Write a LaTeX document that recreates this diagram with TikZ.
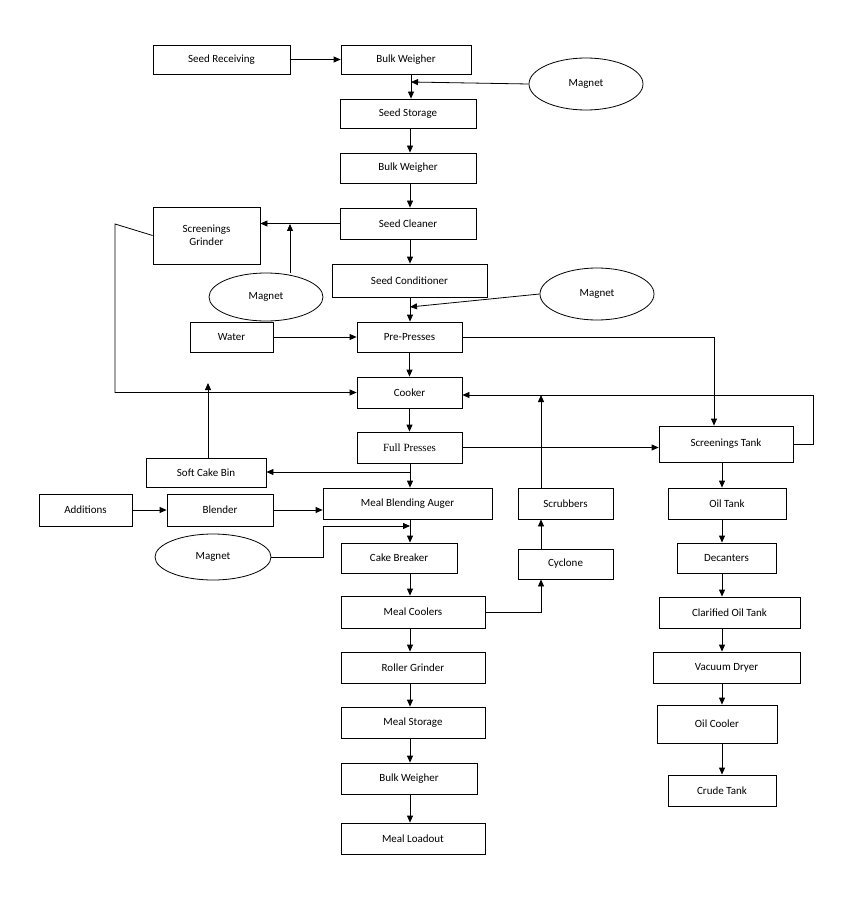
\documentclass[tikz,border=0pt]{standalone}
\usepackage{fontspec}
\setmainfont{Carlito}
\usetikzlibrary{arrows.meta,shapes.geometric}
\begin{document}
\begin{tikzpicture}[x=1pt,y=-1pt,
  box/.style={draw,thick,line width=0.8pt,inner sep=0pt,font=\fontsize{11}{13}\selectfont,align=center},
  mag/.style={draw,ellipse,line width=0.8pt,inner sep=0pt,font=\fontsize{11}{13}\selectfont},
  ar/.style={-{Triangle[length=7pt,width=6pt]},line width=0.8pt},
  ln/.style={line width=0.8pt}]
\useasboundingbox (0,0) rectangle (853,901);
\newcommand{\bx}[6]{\node[box,minimum width=#4-#2,minimum height=#5-#3] (#1) at ({(#2+#4)/2},{(#3+#5)/2}) {#6};}
\newcommand{\mg}[5]{\node[mag,minimum width=2*#4,minimum height=2*#5] (#1) at (#2,#3) {Magnet};}
\bx{sr}{153}{45}{290}{74}{Seed Receiving}
\bx{bw1}{341}{45}{471}{74}{Bulk Weigher}
\mg{m1}{586}{84}{57}{26}
\bx{ss}{340}{99}{476}{128}{Seed Storage}
\bx{bw2}{340}{153}{476}{183}{Bulk Weigher}
\bx{sc}{340}{208}{476}{239}{Seed Cleaner}
\bx{sg}{153}{207}{260}{264}{Screenings\\Grinder}
\bx{scd}{332}{264}{487}{297}{Seed Conditioner}
\mg{m2}{266}{297}{57}{24}
\mg{m3}{597}{294}{57}{26}
\bx{wa}{190}{322}{273}{352}{Water}
\bx{pp}{357}{322}{462}{352}{Pre-Presses}
\bx{co}{357}{377}{462}{408}{Cooker}
\bx{fp}{357}{432}{462}{463}{\fontspec{Liberation Serif}Full Presses}
\bx{st}{659}{426}{793}{462}{Screenings Tank}
\bx{scb}{146}{458}{266}{487}{Soft Cake Bin}
\bx{ad}{39}{494}{132}{526}{Additions}
\bx{bl}{167}{494}{273}{526}{Blender}
\bx{mba}{323}{488}{492}{519}{Meal Blending Auger}
\bx{scr}{518}{488}{613}{519}{Scrubbers}
\bx{ot}{668}{488}{786}{519}{Oil Tank}
\mg{m4}{213}{557}{58}{23}
\bx{cb}{341}{543}{457}{573}{Cake Breaker}
\bx{cy}{518}{549}{613}{579}{Cyclone}
\bx{de}{677}{543}{776}{573}{Decanters}
\bx{mc}{341}{596}{485}{628}{Meal Coolers}
\bx{cot}{659}{597}{800}{628}{Clarified Oil Tank}
\bx{rg}{341}{652}{485}{683}{Roller Grinder}
\bx{vd}{653}{652}{800}{683}{Vacuum Dryer}
\bx{ms}{341}{707}{485}{738}{Meal Storage}
\bx{oc}{657}{705}{777}{743}{Oil Cooler}
\bx{bw3}{341}{763}{477}{794}{Bulk Weigher}
\bx{ct}{668}{775}{776}{806}{Crude Tank}
\bx{ml}{341}{823}{485}{854}{Meal Loadout}
% main chain
\draw[ar] (sr) -- (bw1);
\draw[ar] (bw1.south -| 411,0) -- (ss.north -| 411,0);
\coordinate (j1) at (411,82);
\draw[ar] (m1.west) -- (j1);
\draw[ar] (ss.south -| 410,0) -- (bw2.north -| 410,0);
\draw[ar] (bw2.south -| 410,0) -- (sc.north -| 410,0);
\draw[ar] (sc.south -| 410,0) -- (scd.north -| 410,0);
\draw[ar] (sc.west) -- (sc.west -| sg.east);
\coordinate (j2) at (290,224);
\draw[ar] (m2.north -| 290,0) -- (j2);
\draw[ar] (scd.south -| 410,0) -- (pp.north -| 410,0);
\coordinate (j3) at (410,307);
\draw[ar] (m3.west) -- (j3);
\draw[ar] (wa) -- (pp);
\draw[ar] (pp.east) -| (st.north -| 714,0);
\draw[ar] (pp) -- (co);
\coordinate (j4) at (115,224);
\draw[ar] (sg.west) -- (j4) |- (co.west);
\coordinate (j5) at (208,383);
\draw[ar] (scb.north -| 208,0) -- (j5);
\draw[ar] (co) -- (fp);
\draw[ar] (fp.east) -- (fp.east -| st.west);
\coordinate (j6) at (813,444);
\coordinate (j7) at (813,395);
\draw[ar] (st.east |- j6) -- (j6) -- (j7) -- (co.east |- j7);
\coordinate (j8) at (541,395);
\draw[ar] (scr.north -| 541,0) -- (j8);
\draw[ar] (fp.south -| 410,0) -- (mba.north -| 410,0);
\coordinate (j9) at (410,472);
\draw[ar] (j9) -- (scb.east |- j9);
\draw[ar] (ad) -- (bl);
\draw[ar] (bl.east) -- (bl.east -| mba.west);
\coordinate (j10) at (323,557);
\coordinate (j11) at (410,526);
\draw[ar] (m4.east) -- (j10) |- (j11);
\draw[ar] (mba.south -| 410,0) -- (cb.north -| 410,0);
\draw[ar] (cb.south -| 410,0) -- (mc.north -| 410,0);
\draw[ar] (mc.south -| 410,0) -- (rg.north -| 410,0);
\draw[ar] (rg.south -| 410,0) -- (ms.north -| 410,0);
\draw[ar] (ms.south -| 410,0) -- (bw3.north -| 410,0);
\draw[ar] (bw3.south -| 410,0) -- (ml.north -| 410,0);
\draw[ar] (mc.east) -| (cy.south -| 541,0);
\draw[ar] (cy.north -| 541,0) -- (scr.south -| 541,0);
\draw[ar] (st.south -| 722,0) -- (ot.north -| 722,0);
\draw[ar] (ot.south -| 722,0) -- (de.north -| 722,0);
\draw[ar] (de.south -| 722,0) -- (cot.north -| 722,0);
\draw[ar] (cot.south -| 722,0) -- (vd.north -| 722,0);
\draw[ar] (vd.south -| 722,0) -- (oc.north -| 722,0);
\draw[ar] (oc.south -| 722,0) -- (ct.north -| 722,0);
\end{tikzpicture}
\end{document}
